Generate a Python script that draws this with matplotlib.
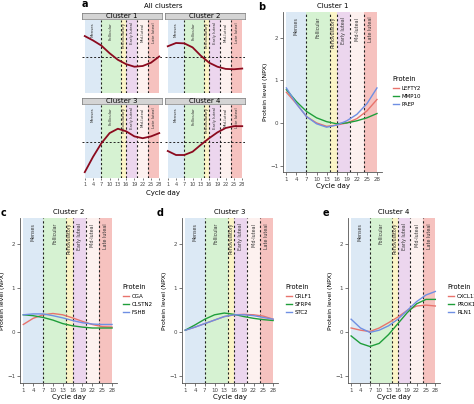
import matplotlib
matplotlib.use("Agg")
import matplotlib.pyplot as plt

W, H = 474, 404
days = [1, 4, 7, 10, 13, 16, 19, 22, 25, 28]
tick_days = [1, 4, 7, 10, 13, 16, 19, 22, 25, 28]

phase_names = ["Menses", "Follicular", "Periovulatory", "Early luteal", "Mid-luteal", "Late luteal"]
phase_edges = [1, 7, 14, 16, 20, 24, 28]
phase_colors = ["#dce9f5", "#d6f2d2", "#fbf4c6", "#ecd6ee", "#fdf1ef", "#f6c2bf"]

cluster_names = ["Cluster 1", "Cluster 2", "Cluster 3", "Cluster 4"]
cluster_vals = [
    [0.56, 0.44, 0.30, 0.09, -0.09, -0.21, -0.28, -0.26, -0.17, 0.0],
    [0.28, 0.37, 0.36, 0.25, 0.02, -0.17, -0.28, -0.34, -0.35, -0.33],
    [-0.84, -0.42, -0.05, 0.23, 0.35, 0.28, 0.14, 0.09, 0.14, 0.23],
    [-0.26, -0.37, -0.37, -0.28, -0.09, 0.09, 0.25, 0.37, 0.42, 0.42],
]

b_names = ["LEFTY2", "MMP10", "PAEP"]
b_vals = [
    [0.72, 0.45, 0.15, 0.0, -0.08, -0.05, 0.0, 0.10, 0.28, 0.55],
    [0.78, 0.50, 0.27, 0.12, 0.03, -0.02, 0.0, 0.05, 0.12, 0.22],
    [0.82, 0.45, 0.15, -0.02, -0.10, -0.05, 0.05, 0.20, 0.45, 0.82],
]
c_names = ["CGA", "CLSTN2", "FSHB"]
c_vals = [
    [0.18, 0.32, 0.40, 0.43, 0.40, 0.33, 0.25, 0.18, 0.13, 0.12],
    [0.40, 0.38, 0.34, 0.28, 0.20, 0.15, 0.12, 0.10, 0.10, 0.10],
    [0.40, 0.42, 0.42, 0.38, 0.33, 0.27, 0.22, 0.19, 0.18, 0.18],
]
d_names = ["CRLF1", "SFRP4", "STC2"]
d_vals = [
    [0.05, 0.12, 0.20, 0.28, 0.36, 0.40, 0.41, 0.40, 0.37, 0.30],
    [0.05, 0.17, 0.30, 0.40, 0.44, 0.41, 0.36, 0.32, 0.29, 0.27],
    [0.05, 0.12, 0.20, 0.28, 0.36, 0.40, 0.40, 0.38, 0.34, 0.30],
]
e_names = ["CXCL12", "PROK1", "RLN1"]
e_vals = [
    [0.10, 0.05, 0.02, 0.10, 0.22, 0.35, 0.50, 0.60, 0.62, 0.60],
    [-0.08, -0.25, -0.32, -0.25, -0.05, 0.20, 0.45, 0.65, 0.75, 0.75],
    [0.30, 0.10, 0.00, 0.05, 0.15, 0.30, 0.50, 0.70, 0.85, 0.93],
]
line_colors = ["#e8736c", "#1f9e3a", "#6f8fe3"]

fig = plt.figure(figsize=(W / 100, H / 100), dpi=100)
plt.rcParams["font.family"] = "DejaVu Sans"


def box(x0, y0, x1, y1):
    return [x0 / W, 1 - y1 / H, (x1 - x0) / W, (y1 - y0) / H]


def phases(ax, fs=3.2, ytext=0.97):
    for i, name in enumerate(phase_names):
        ax.axvspan(phase_edges[i], phase_edges[i + 1], color=phase_colors[i], lw=0, zorder=0)
        ax.text((phase_edges[i] + phase_edges[i + 1]) / 2, ytext, name, rotation=90,
                ha="center", va="top", fontsize=fs, transform=ax.get_xaxis_transform(), color="#333333")
    for x in phase_edges[1:-1]:
        ax.axvline(x, color="#222222", ls=(0, (2, 2)), lw=0.8, zorder=1)


def style(ax, fs=4.0):
    for s in ["top", "right"]:
        ax.spines[s].set_visible(False)
    for s in ["left", "bottom"]:
        ax.spines[s].set_color("#555555")
        ax.spines[s].set_linewidth(0.6)
    ax.tick_params(labelsize=fs, length=2, width=0.5, colors="#444444", pad=1.5)


# panel a
a_boxes = [(82, 20, 162, 93), (165, 20, 245, 93), (82, 105, 162, 178), (165, 105, 245, 178)]
for k, (x0, y0, x1, y1) in enumerate(a_boxes):
    ax = fig.add_axes(box(x0, y0, x1, y1))
    phases(ax, fs=2.8)
    ax.plot(days, cluster_vals[k], color="#8b0a1e", lw=1.3, zorder=3)
    ax.axhline(0, color="#222222", ls=(0, (2, 2)), lw=0.7, zorder=2)
    ax.set_xlim(0, 29)
    ax.set_ylim(-1.0, 1.0)
    ax.set_yticks([])
    for s in ax.spines.values():
        s.set_visible(False)
    ax.set_xticks(tick_days)
    ax.tick_params(labelsize=3.6, length=1.5, width=0.5, colors="#444444", pad=1.5)
    if y0 < 100:
        ax.set_xticklabels([])
        ax.tick_params(length=0)
    sx = fig.add_axes(box(x0, y0 - 7, x1, y0 - 1))
    sx.set_xticks([])
    sx.set_yticks([])
    sx.set_facecolor("#d4d4d4")
    for s in sx.spines.values():
        s.set_color("#777777")
        s.set_linewidth(0.5)
    sx.text(0.5, 0.45, cluster_names[k], ha="center", va="center", fontsize=5.0)
fig.text(163 / W, 1 - 6 / H, "All clusters", ha="center", va="center", fontsize=5)
fig.text(163 / W, 1 - 193 / H, "Cycle day", ha="center", va="center", fontsize=5)
fig.text(82 / W, 1 - 4 / H, "a", fontweight="bold", fontsize=7, va="center")


def protein_panel(rect, title, names, vals, letter, legx):
    ax = fig.add_axes(box(*rect))
    phases(ax, fs=3.4)
    for i in range(3):
        ax.plot(days, vals[i], color=line_colors[i], lw=1.0, zorder=3)
    ax.set_xlim(0, 29.5)
    ax.set_ylim(-1.15, 2.6)
    ax.set_xticks(tick_days)
    ax.set_yticks([-1, 0, 1, 2])
    style(ax)
    ax.set_xlabel("Cycle day", fontsize=5, labelpad=1)
    ax.set_ylabel("Protein level (NPX)", fontsize=4.5, labelpad=1.5)
    ax.set_title(title, fontsize=5, pad=3)
    x0, y0 = rect[0], rect[1]
    fig.text(max(x0 - 25, 1) / W, 1 - (y0 - 5) / H, letter, fontweight="bold", fontsize=7, va="center")
    yl = y0 + (rect[3] - y0) * 0.42
    fig.text(legx / W, 1 - yl / H, "Protein", fontsize=4.8, va="center")
    for i in range(3):
        yy = 1 - (yl + 9 + 8 * i) / H
        fig.add_artist(plt.Line2D([(legx + 1) / W, (legx + 7) / W], [yy, yy], color=line_colors[i], lw=1.0))
        fig.text((legx + 10) / W, yy, names[i], fontsize=4.0, va="center")


protein_panel((283, 12, 382, 172), "Cluster 1", b_names, b_vals, "b", 392)
protein_panel((20, 218, 117, 383), "Cluster 2", c_names, c_vals, "c", 122)
protein_panel((182, 218, 278, 383), "Cluster 3", d_names, d_vals, "d", 285)
protein_panel((348, 218, 440, 383), "Cluster 4", e_names, e_vals, "e", 447)

fig.savefig("out.png", dpi=100)
